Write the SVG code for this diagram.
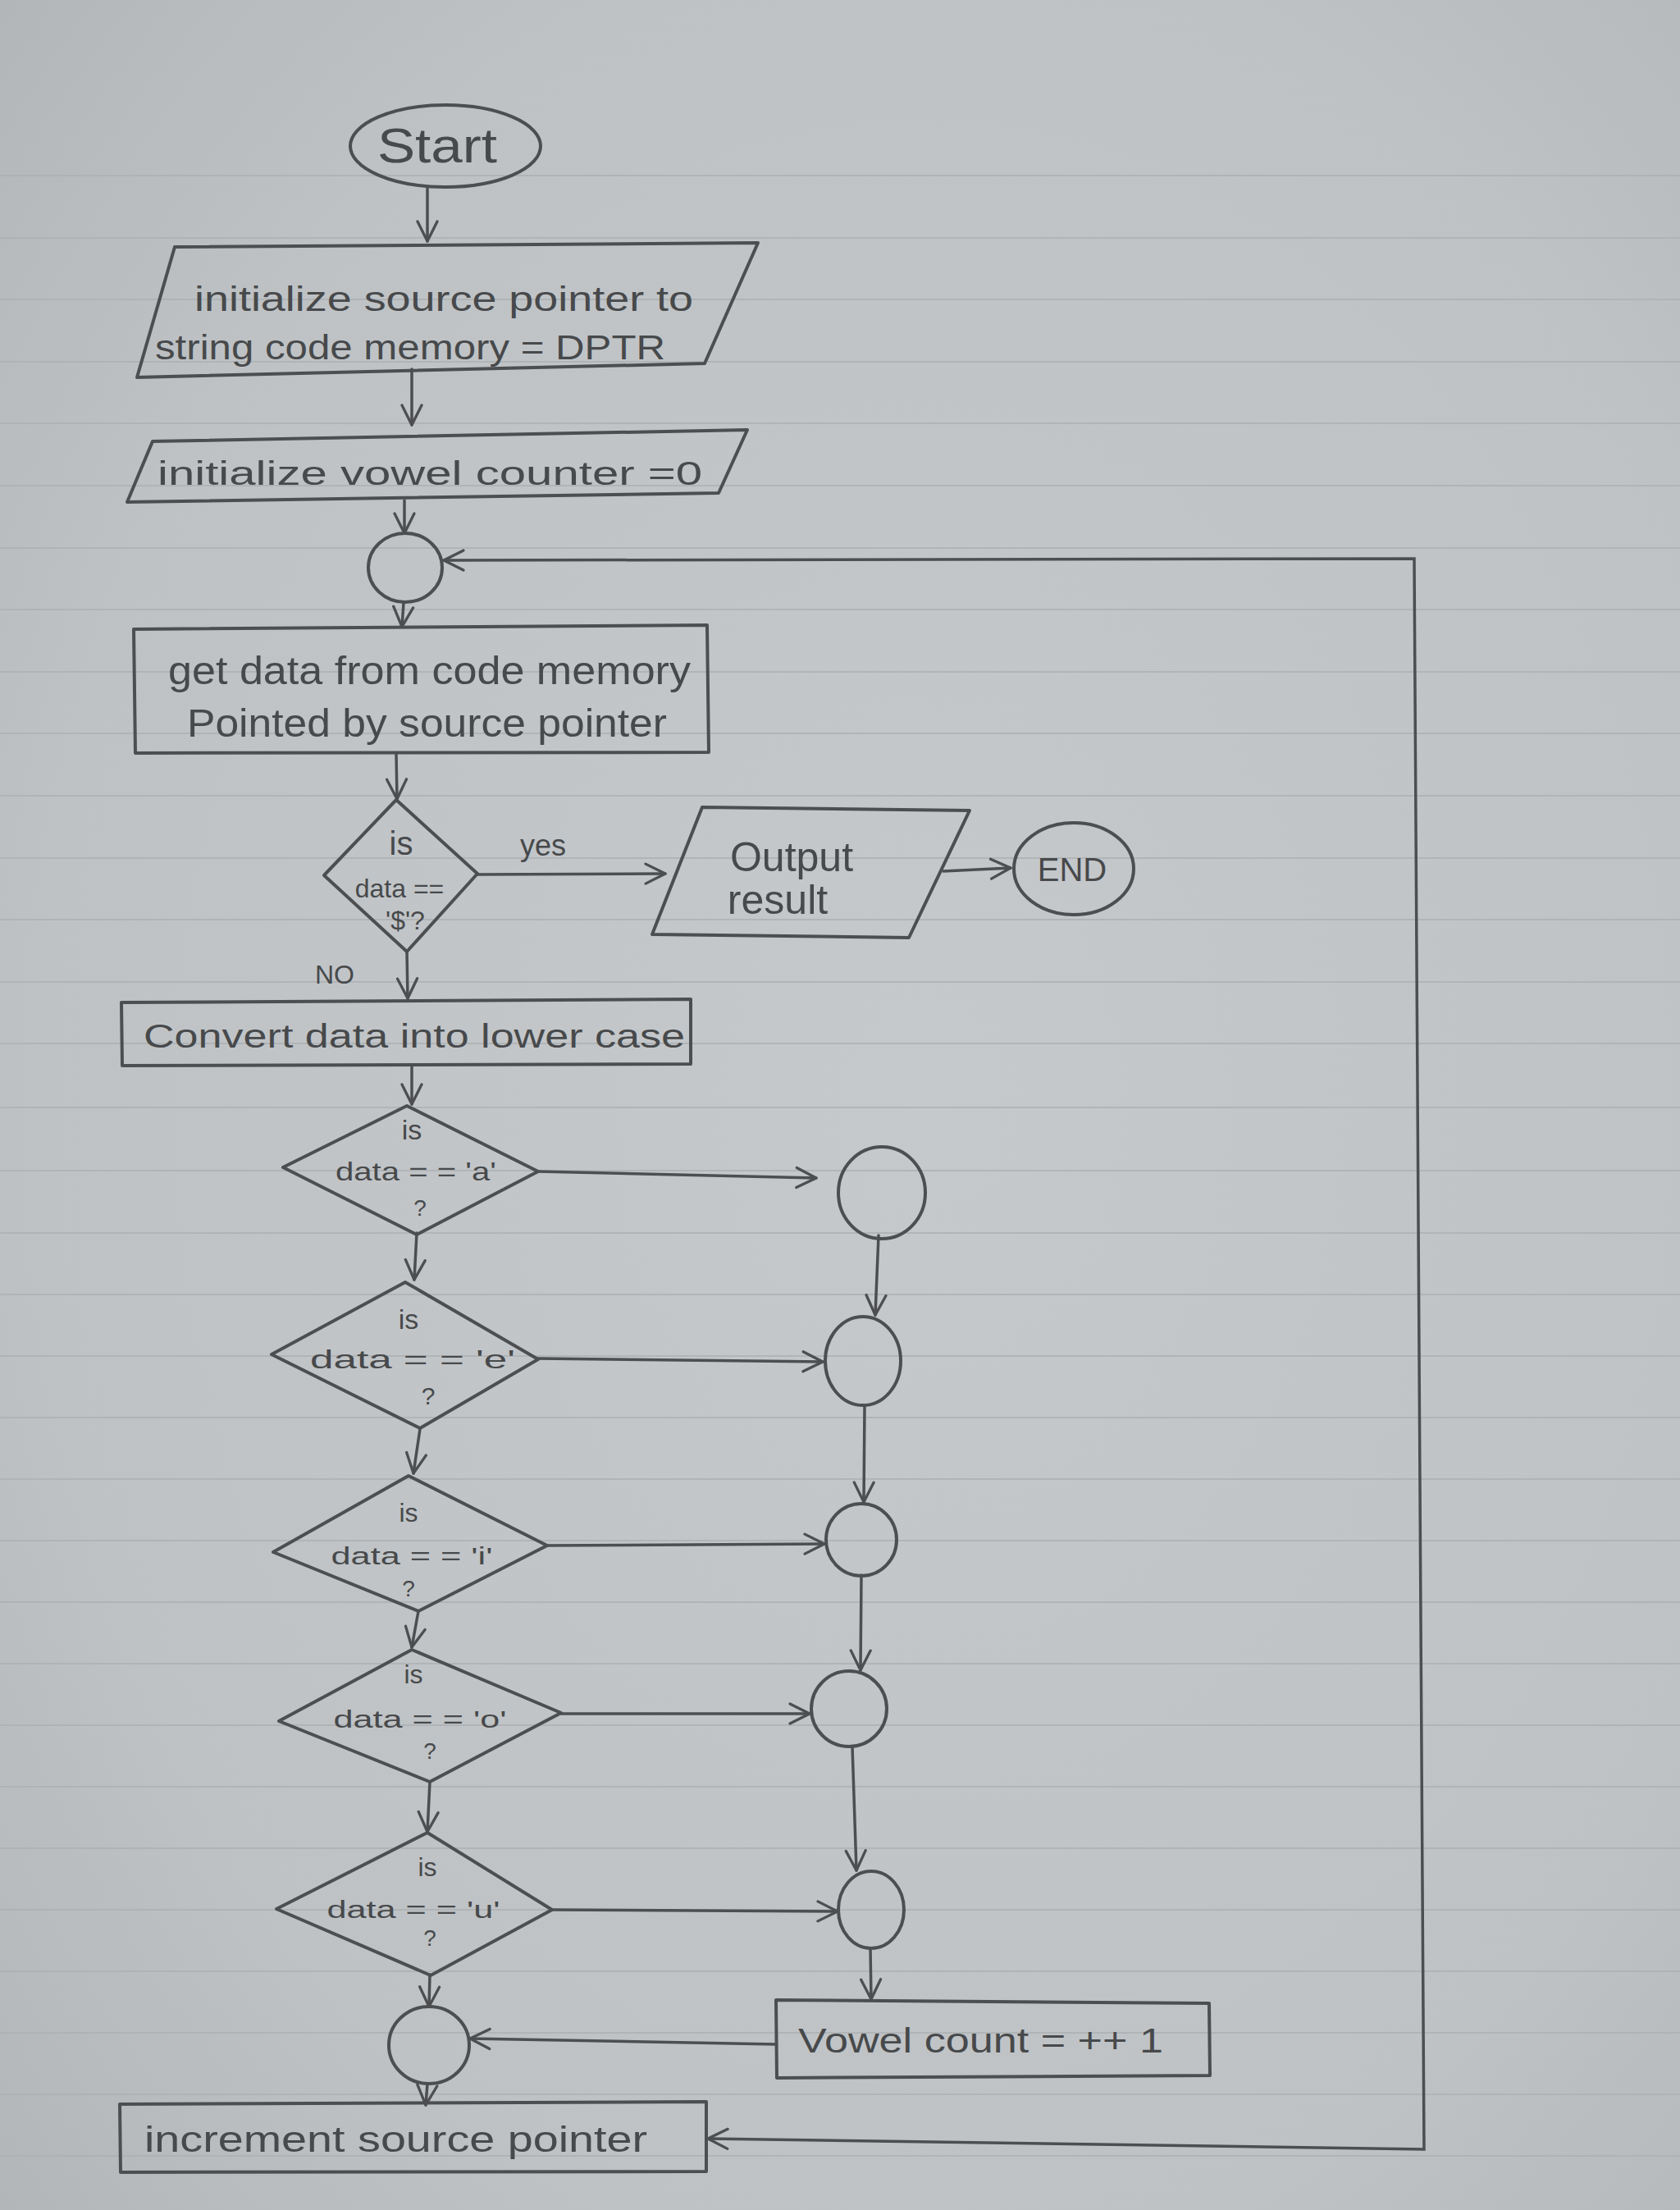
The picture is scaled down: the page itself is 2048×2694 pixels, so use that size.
<svg xmlns="http://www.w3.org/2000/svg" width="2048" height="2694" viewBox="0 0 2048 2694">
<defs>
<style>
.rule{stroke:#acb0b3;stroke-width:2;fill:none;opacity:0.8}
.sh{fill:none;stroke:#4c4e50;stroke-width:4;stroke-linejoin:round;stroke-linecap:round}
.ln{fill:none;stroke:#4c4e50;stroke-width:3.5;stroke-linecap:round}
.t{font-family:"Liberation Sans","DejaVu Sans",sans-serif;fill:#47494b}
.m{text-anchor:middle}
</style>
<radialGradient id="paper" cx="0.55" cy="0.5" r="0.75">
<stop offset="0" stop-color="#c6c9cc"/>
<stop offset="0.7" stop-color="#bec2c5"/>
<stop offset="1" stop-color="#b2b6b9"/>
</radialGradient>
<marker id="arr" markerUnits="userSpaceOnUse" markerWidth="30" markerHeight="30" viewBox="0 0 20 20" refX="18" refY="10" orient="auto">
<path d="M2,2 L18,10 L2,18" fill="none" stroke="#4c4e50" stroke-width="2.2" stroke-linecap="round" stroke-linejoin="round"/>
</marker>
<marker id="arrs" markerUnits="userSpaceOnUse" markerWidth="30" markerHeight="30" viewBox="0 0 20 20" refX="18" refY="10" orient="auto-start-reverse">
<path d="M2,2 L18,10 L2,18" fill="none" stroke="#4c4e50" stroke-width="2.2" stroke-linecap="round" stroke-linejoin="round"/>
</marker>
</defs>
<rect x="0" y="0" width="2048" height="2694" fill="url(#paper)"/>
<g id="ruling">
<path class="rule" d="M0,214H2048M0,290H2048M0,365H2048M0,441H2048M0,516H2048M0,592H2048M0,668H2048M0,743H2048M0,819H2048M0,894H2048M0,970H2048M0,1046H2048M0,1121H2048M0,1197H2048M0,1272H2048M0,1350H2048M0,1427H2048M0,1503H2048M0,1578H2048M0,1653H2048M0,1728H2048M0,1803H2048M0,1878H2048M0,1953H2048M0,2028H2048M0,2103H2048M0,2178H2048M0,2253H2048M0,2328H2048M0,2403H2048M0,2478H2048M0,2553H2048M0,2628H2048"/>
</g>

<g id="connectors">
<path class="ln" marker-end="url(#arr)" d="M521,229 L521,294"/>
<path class="ln" marker-end="url(#arr)" d="M502,450 L502,518"/>
<path class="ln" marker-end="url(#arr)" d="M493,610 L493,650"/>
<path class="ln" marker-end="url(#arr)" d="M492,735 L490,764"/>
<path class="ln" marker-end="url(#arr)" d="M483,919 L484,974"/>
<path class="ln" marker-end="url(#arr)" d="M582,1066 L811,1065"/>
<path class="ln" marker-end="url(#arr)" d="M1150,1062 L1232,1058"/>
<path class="ln" marker-end="url(#arr)" d="M496,1160 L497,1217"/>
<path class="ln" marker-end="url(#arr)" d="M502,1300 L502,1346"/>
<path class="ln" marker-end="url(#arr)" d="M656,1428 L995,1436"/>
<path class="ln" marker-end="url(#arr)" d="M1071,1506 L1067,1603"/>
<path class="ln" marker-end="url(#arr)" d="M508,1503 L505,1560"/>
<path class="ln" marker-end="url(#arr)" d="M656,1656 L1003,1660"/>
<path class="ln" marker-end="url(#arr)" d="M1054,1713 L1053,1831"/>
<path class="ln" marker-end="url(#arr)" d="M512,1742 L504,1796"/>
<path class="ln" marker-end="url(#arr)" d="M667,1884 L1005,1882"/>
<path class="ln" marker-end="url(#arr)" d="M1050,1920 L1049,2036"/>
<path class="ln" marker-end="url(#arr)" d="M510,1964 L502,2008"/>
<path class="ln" marker-end="url(#arr)" d="M684,2089 L987,2089"/>
<path class="ln" marker-end="url(#arr)" d="M1039,2129 L1044,2280"/>
<path class="ln" marker-end="url(#arr)" d="M524,2172 L521,2233"/>
<path class="ln" marker-end="url(#arr)" d="M673,2328 L1021,2330"/>
<path class="ln" marker-end="url(#arr)" d="M1061,2375 L1062,2437"/>
<path class="ln" marker-end="url(#arr)" d="M524,2407 L523,2446"/>
<path class="ln" marker-end="url(#arr)" d="M946,2492 L573,2485"/>
<path class="ln" marker-end="url(#arr)" d="M521,2540 L519,2566"/>
<path class="ln" marker-start="url(#arrs)" marker-end="url(#arr)" d="M863,2607 L1736,2620 L1724,681 L541,683"/>
</g>

<g id="start">
<ellipse class="sh" cx="543" cy="178" rx="116" ry="50"/>
<text class="t m" x="533" y="198" font-size="60" textLength="146" lengthAdjust="spacingAndGlyphs">Start</text>
</g>

<g id="init-source">
<path class="sh" d="M213,301 L924,296 L859,443 L167,460 Z"/>
<text class="t" x="237" y="379" font-size="42" textLength="608" lengthAdjust="spacingAndGlyphs">initialize  source  pointer  to</text>
<text class="t" x="189" y="438" font-size="42" textLength="622" lengthAdjust="spacingAndGlyphs">string  code  memory  =  DPTR</text>
</g>

<g id="init-vowel">
<path class="sh" d="M186,538 L911,524 L876,601 L155,612 Z"/>
<text class="t" x="192" y="591" font-size="40" textLength="664" lengthAdjust="spacingAndGlyphs">initialize  vowel  counter  =0</text>
</g>

<g id="loop-top">
<ellipse class="sh" cx="494" cy="692" rx="45" ry="42"/>
</g>

<g id="get-data">
<path class="sh" d="M163,767 L862,762 L864,917 L165,918 Z"/>
<text class="t" x="205" y="834" font-size="48" textLength="637" lengthAdjust="spacingAndGlyphs">get data from code memory</text>
<text class="t" x="228" y="898" font-size="48" textLength="585" lengthAdjust="spacingAndGlyphs">Pointed  by  source  pointer</text>
</g>

<g id="is-dollar">
<path class="sh" d="M483,975 L582,1065 L496,1160 L395,1067 Z"/>
<text class="t m" x="489" y="1042" font-size="40">is</text>
<text class="t m" x="487" y="1094" font-size="32">data ==</text>
<text class="t m" x="494" y="1133" font-size="32">'$'?</text>
</g>
<text class="t m" x="662" y="1043" font-size="36">yes</text>

<g id="output-result">
<path class="sh" d="M856,984 L1182,988 L1108,1143 L795,1139 Z"/>
<text class="t m" x="965" y="1062" font-size="50">Output</text>
<text class="t m" x="948" y="1114" font-size="50">result</text>
</g>

<g id="end">
<ellipse class="sh" cx="1309" cy="1059" rx="73" ry="56"/>
<text class="t m" x="1307" y="1074" font-size="40">END</text>
</g>
<text class="t m" x="408" y="1199" font-size="32">NO</text>

<g id="convert">
<path class="sh" d="M148,1222 L842,1218 L842,1297 L149,1299 Z"/>
<text class="t" x="175" y="1277" font-size="40" textLength="660" lengthAdjust="spacingAndGlyphs">Convert  data  into  lower case</text>
</g>

<g id="is-a">
<path class="sh" d="M496,1348 L656,1428 L508,1505 L345,1423 Z"/>
<text class="t m" x="502" y="1389" font-size="34">is</text>
<text class="t m" x="507" y="1439" font-size="32" textLength="196" lengthAdjust="spacingAndGlyphs">data = = 'a'</text>
<text class="t m" x="512" y="1482" font-size="28">?</text>
</g>
<g id="circ-a"><ellipse class="sh" cx="1075" cy="1454" rx="53" ry="56"/></g>

<g id="is-e">
<path class="sh" d="M494,1563 L656,1657 L512,1741 L331,1651 Z"/>
<text class="t m" x="498" y="1620" font-size="34">is</text>
<text class="t m" x="503" y="1668" font-size="32" textLength="250" lengthAdjust="spacingAndGlyphs">data  = =  'e'</text>
<text class="t m" x="522" y="1712" font-size="30">?</text>
</g>
<g id="circ-e"><ellipse class="sh" cx="1052" cy="1659" rx="46" ry="54"/></g>

<g id="is-i">
<path class="sh" d="M498,1799 L667,1884 L510,1964 L333,1892 Z"/>
<text class="t m" x="498" y="1855" font-size="32">is</text>
<text class="t m" x="502" y="1907" font-size="30" textLength="197" lengthAdjust="spacingAndGlyphs">data = = 'i'</text>
<text class="t m" x="498" y="1946" font-size="28">?</text>
</g>
<g id="circ-i"><ellipse class="sh" cx="1050" cy="1877" rx="43" ry="44"/></g>

<g id="is-o">
<path class="sh" d="M502,2011 L684,2088 L524,2172 L340,2098 Z"/>
<text class="t m" x="504" y="2052" font-size="32">is</text>
<text class="t m" x="512" y="2106" font-size="30" textLength="211" lengthAdjust="spacingAndGlyphs">data = = 'o'</text>
<text class="t m" x="524" y="2144" font-size="28">?</text>
</g>
<g id="circ-o"><ellipse class="sh" cx="1035" cy="2083" rx="46" ry="46"/></g>

<g id="is-u">
<path class="sh" d="M521,2234 L673,2328 L525,2408 L337,2327 Z"/>
<text class="t m" x="521" y="2287" font-size="32">is</text>
<text class="t m" x="504" y="2338" font-size="30" textLength="211" lengthAdjust="spacingAndGlyphs">data = = 'u'</text>
<text class="t m" x="524" y="2372" font-size="28">?</text>
</g>
<g id="circ-u"><ellipse class="sh" cx="1062" cy="2328" rx="40" ry="47"/></g>

<g id="vowel-count">
<path class="sh" d="M946,2438 L1474,2442 L1475,2530 L947,2533 Z"/>
<text class="t" x="973" y="2502" font-size="42" textLength="445" lengthAdjust="spacingAndGlyphs">Vowel  count = ++ 1</text>
</g>

<g id="join-bottom">
<ellipse class="sh" cx="523" cy="2493" rx="49" ry="47"/>
</g>

<g id="increment">
<path class="sh" d="M146,2565 L861,2562 L861,2647 L147,2648 Z"/>
<text class="t" x="176" y="2623" font-size="44" textLength="613" lengthAdjust="spacingAndGlyphs">increment  source  pointer</text>
</g>
</svg>
